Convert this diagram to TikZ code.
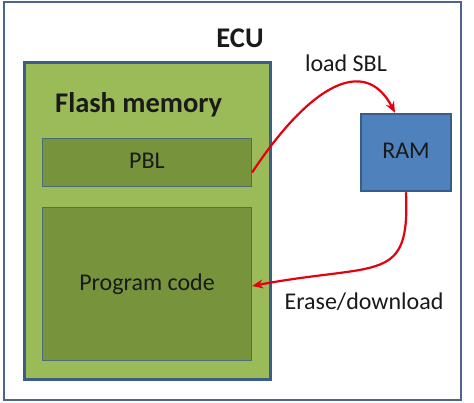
\documentclass[tikz,border=0pt]{standalone}
\usepackage{fontspec}
\setmainfont{Carlito}
\usetikzlibrary{arrows.meta}
\definecolor{ecuborder}{HTML}{4A6690}
\definecolor{flashfill}{HTML}{9BBB59}
\definecolor{flashborder}{HTML}{3C5D88}
\definecolor{innerfill}{HTML}{77933C}
\definecolor{innerborder}{HTML}{4A6B78}
\definecolor{ramfill}{HTML}{4F81BD}
\definecolor{ramborder}{HTML}{385D8A}
\definecolor{arrowred}{HTML}{E3000F}
\definecolor{txt}{HTML}{1A1A1A}
\tikzset{
  ecubox/.style={draw=ecuborder, line width=2.3pt, fill=white, inner sep=0pt},
  flashbox/.style={draw=flashborder, line width=3pt, fill=flashfill, inner sep=0pt},
  innerbox/.style={draw=innerborder, line width=1.2pt, fill=innerfill, inner sep=0pt,
     font=\fontsize{24}{28}\selectfont, text=txt, text height=13pt, text depth=0pt},
  rambox/.style={draw=ramborder, line width=2.5pt, fill=ramfill, inner sep=0pt,
     font=\fontsize{24}{28}\selectfont, text=txt, text height=13pt, text depth=0pt},
  lbl/.style={inner sep=0pt, font=\fontsize{24}{28}\selectfont, text=txt},
  boldlbl/.style={inner sep=0pt, font=\fontsize{28.5}{32}\selectfont\bfseries, text=txt},
  redarrow/.style={draw=arrowred, line width=2.2pt, -{Stealth[length=11pt,width=9pt]}},
}
\begin{document}
\begin{tikzpicture}[x=1pt,y=-1pt]
\useasboundingbox (0,0) rectangle (474,403);
\node[ecubox, minimum width=457, minimum height=398] (ecu) at (232.5,201) {};
\node[boldlbl, anchor=base] (ecutitle) at (240,48) {ECU};
\node[flashbox, minimum width=246, minimum height=317] (flash) at (147.5,221) {};
\node[boldlbl, anchor=base west] (flashtitle) at (55,113) {Flash memory};
\node[innerbox, minimum width=209, minimum height=48] (pbl) at (147,162.5) {PBL};
\node[innerbox, minimum width=209, minimum height=153] (prog) at (147,284) {Program code};
\node[rambox, minimum width=90, minimum height=77] (ram) at (406,152.5) {RAM};
\node[lbl, anchor=base] (loadlbl) at (346,72) {load SBL};
\node[lbl, anchor=base] (eraselbl) at (364,310) {Erase/download};
\coordinate (pblout) at ([yshift=-10pt]pbl.east);
\coordinate (ramin) at ([xshift=-11pt]ram.north);
\coordinate (ramout) at (ram.south);
\coordinate (progin) at ([yshift=-2pt]prog.east);
\draw[redarrow] (pblout) .. controls (310,85) and (365,55) .. (ramin);
\draw[redarrow] (ramout) .. controls (410,285) and (380,262) .. (progin);
\end{tikzpicture}
\end{document}
